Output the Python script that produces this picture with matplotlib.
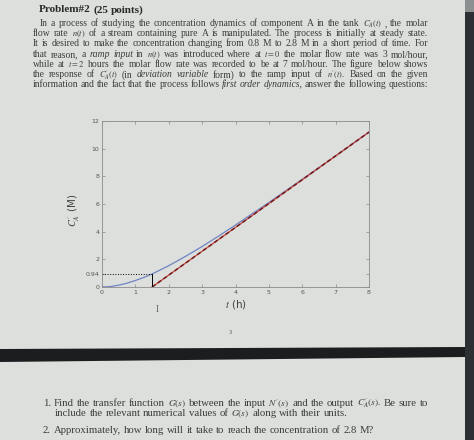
import matplotlib
matplotlib.use("Agg")
import matplotlib.pyplot as plt

plt.rcParams["mathtext.fontset"] = "stix"

# ─── values ──────────────────────────────────────────────────────────────────
T_RESP = [0, 0.25, 0.5, 0.75, 1.0, 1.25, 1.5, 2.0, 2.5, 3.0, 3.5, 4.0, 5.0, 6.0, 7.0, 8.0]
CA_RESP = [0, 0.03, 0.13, 0.28, 0.47, 0.69, 0.94, 1.54, 2.21, 2.93, 3.69, 4.48, 6.11, 7.79, 9.48, 11.19]
T_ASYM = [1.5, 8.0]
CA_ASYM = [0, 11.2]
T_MARK = 1.5
CA_MARK = 0.94
X_TICKS = [0, 1, 2, 3, 4, 5, 6, 7, 8]
Y_TICKS = [0, 0.94, 2, 4, 6, 8, 10, 12]
Y_TICKLABELS = ["0", "0.94", "2", "4", "6", "8", "10", "12"]

# page text; *...* marks italic words
TITLE = "Problem#2 (25 points)"
PARA = [
    r"In a process of studying the concentration dynamics of component A in the tank $C_A(t)$ , the molar",
    r"flow rate $n(t)$ of a stream containing pure A is manipulated. The process is initially at steady state.",
    r"It is desired to make the concentration changing from 0.8 M to 2.8 M in a short period of time. For",
    r"that reason, a *ramp input* in $n(t)$ was introduced where at $t=0$ the molar flow rate was 3 mol/hour,",
    r"while at $t=2$ hours the molar flow rate was recorded to be at 7 mol/hour. The figure below shows",
    r"the response of $C_A^{\prime}(t)$ (in *deviation variable* form) to the ramp input of $n^{\prime}(t)$. Based on the given",
    r"information and the fact that the process follows *first order dynamics*, answer the following questions:",
]
QUESTIONS = [
    r"1. Find the transfer function $G(s)$ between the input $N^{\prime}(s)$ and the output $C_A^{\prime}(s)$. Be sure to",
    r"include the relevant numerical values of $G(s)$ along with their units.",
    r"2. Approximately, how long will it take to reach the concentration of 2.8 M?",
]

PAGE = "#dcdfdc"
INK = "#3c3c3c"
SERIF = "Liberation Serif"
MATH_SHRINK = 0.88

fig = plt.figure(figsize=(4.74, 4.40), dpi=100)
fig.patch.set_facecolor(PAGE)

# ─── page backdrop in pixel coordinates ──────────────────────────────────────
bg = fig.add_axes([0, 0, 1, 1])
bg.set_xlim(0, 474); bg.set_ylim(440, 0); bg.axis("off")
bg.fill([0, 466, 466, 0], [349, 347, 357, 362], color="#1c1d1f", lw=0)
bg.fill([465, 474, 474, 465], [0, 0, 440, 440], color="#2c2f34", lw=0)
bg.fill([465, 474, 474, 465], [0, 0, 12, 12], color="#8c9090", lw=0)

renderer = fig.canvas.get_renderer()


def tokens(s):
    out, italic = [], False
    for w in s.split(" "):
        if w.startswith("*"):
            italic = True
        out.append((w.replace("*", ""), italic))
        if w.rstrip(",.:").endswith("*"):
            italic = False
    return out


def tok_size(txt, size):
    return size * MATH_SHRINK if "$" in txt else size


def width_of(txt, size, italic=False, weight="normal"):
    t = bg.text(0, 0, txt, fontsize=tok_size(txt, size), family=SERIF, weight=weight,
                style="italic" if italic else "normal")
    w = t.get_window_extent(renderer).width
    t.remove()
    return w


def space_of(size, weight="normal"):
    return width_of("a a", size, weight=weight) - width_of("aa", size, weight=weight)


def fit_size(s, x, x_right, size=6.3, weight="normal"):
    toks = tokens(s)
    nat = sum(width_of(t, size, it, weight) for t, it in toks) + (len(toks) - 1) * space_of(size, weight)
    return size * (x_right - x) / nat


def put_line(x, y, s, size, x_right=None, color=INK, weight="normal"):
    """Lay a line word by word; stretch the gaps to reach x_right."""
    toks = tokens(s)
    widths = [width_of(t, size, it, weight) for t, it in toks]
    if x_right is None:
        gap = space_of(size, weight)
    else:
        gap = (x_right - x - sum(widths)) / max(len(toks) - 1, 1)
    cx = x
    for (txt, it), wd in zip(toks, widths):
        bg.text(cx, y, txt, fontsize=tok_size(txt, size), family=SERIF, color=color,
                va="baseline", ha="left", weight=weight,
                style="italic" if it else "normal")
        cx += wd + gap


title_size = fit_size(TITLE, 39, 144, weight="bold")
put_line(39, 12.5, TITLE, title_size, color="#2a2a2a", weight="bold")

para_x = [40] + [33] * (len(PARA) - 1)
para_size = min(fit_size(s, x, 428) for s, x in zip(PARA, para_x))
para_y = [26.3, 36.3, 46.5, 57, 67.3, 77.3, 87.3]
for s, x, y in zip(PARA, para_x, para_y):
    put_line(x, y, s, para_size, x_right=428)

q_size = fit_size(QUESTIONS[0], 43, 428)
put_line(43, 406, QUESTIONS[0], q_size, x_right=428)
put_line(55, 416, QUESTIONS[1], q_size)
put_line(43, 433, QUESTIONS[2], q_size)

bg.text(230, 333, "3", fontsize=4.5, color="#555555", ha="center", va="center",
        family=SERIF)
bg.text(157, 310, "I", fontsize=7, color="#6a6a6a", ha="center", va="center",
        family=SERIF)

# ─── the chart ───────────────────────────────────────────────────────────────
ax = fig.add_axes([102 / 474, 1 - 287 / 440, (369 - 102) / 474, (287 - 121) / 440])
ax.set_facecolor("none")
ax.plot(T_RESP, CA_RESP, color="#6f83c4", lw=0.9)
ax.plot(T_ASYM, CA_ASYM, color="#c8504a", lw=1.0)
ax.plot(T_ASYM, CA_ASYM, color="#6a1a1a", lw=1.0, ls=(0, (3, 2)))
ax.plot([0, T_MARK], [CA_MARK, CA_MARK], color="k", lw=0.7, ls=":")
ax.plot([T_MARK, T_MARK], [0, CA_MARK], color="k", lw=0.7)

ax.set_xlim(0, 8); ax.set_ylim(0, 12)
ax.set_xticks(X_TICKS)
ax.set_yticks(Y_TICKS); ax.set_yticklabels(Y_TICKLABELS)
ax.tick_params(direction="in", top=True, right=True, length=2, width=0.5,
               labelsize=4.5, labelcolor="#555555", color="#888888", pad=2)
for sp in ax.spines.values():
    sp.set_color("#8a8a8a"); sp.set_linewidth(0.6)

ax.set_xlabel(r"$t$ (h)", fontsize=7.5, color="#444444", labelpad=2)
ax.set_ylabel(r"$C_A^{\prime}$ (M)", fontsize=7.5, color="#444444")
ax.yaxis.set_label_coords(-0.075, 0.46)

fig.savefig("out.png", dpi=100, facecolor=PAGE)
